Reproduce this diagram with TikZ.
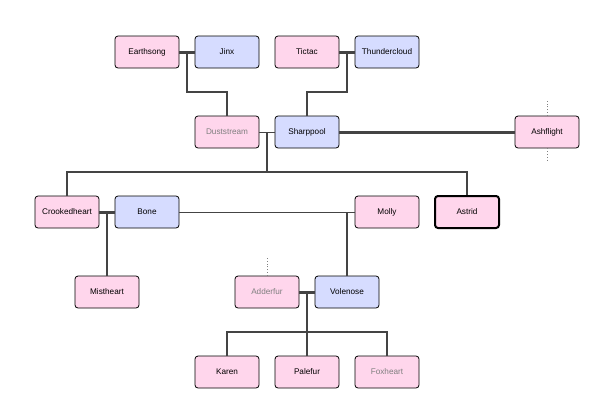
\documentclass[tikz,border=0pt]{standalone}
\usepackage{fontspec}
\setmainfont{Liberation Sans}
\begin{document}
\begin{tikzpicture}[x=1pt,y=-1pt,
  box/.style={draw=black,rounded corners=3pt,minimum width=64pt,minimum height=32pt,inner sep=0pt,font=\fontsize{8.2}{10}\selectfont,line width=0.8pt},
  f/.style={box,fill={rgb,255:red,255;green,214;blue,236}},
  m/.style={box,fill={rgb,255:red,214;green,220;blue,255}},
  dim/.style={text=gray},
  ln/.style={draw={rgb,255:red,68;green,68;blue,68},line width=1.5pt},
  th/.style={draw={rgb,255:red,68;green,68;blue,68},line width=1pt},
  tk/.style={draw={rgb,255:red,68;green,68;blue,68},line width=3pt},
  dt/.style={draw=gray,dotted,line width=0.8pt}]
\useasboundingbox (0,0) rectangle (610,418);
\node[f] (earth) at (147,52) {Earthsong};
\node[m] (jinx) at (227,52) {Jinx};
\node[f] (tic) at (307,52) {Tictac};
\node[m] (thun) at (387,52) {Thundercloud};
\node[f,dim] (dust) at (227,132) {Duststream};
\node[m] (sharp) at (307,132) {Sharppool};
\node[f] (ash) at (547,132) {Ashflight};
\node[f] (crook) at (67,212) {Crookedheart};
\node[m] (bone) at (147,212) {Bone};
\node[f] (molly) at (387,212) {Molly};
\node[f,line width=2pt] (astrid) at (467,212) {Astrid};
\node[f] (mist) at (107,292) {Mistheart};
\node[f,dim] (adder) at (267,292) {Adderfur};
\node[m] (vole) at (347,292) {Volenose};
\node[f] (karen) at (227,372) {Karen};
\node[f] (pale) at (307,372) {Palefur};
\node[f,dim] (fox) at (387,372) {Foxheart};
\coordinate (p1) at (187,52);
\coordinate (p2) at (347,52);
\coordinate (p3) at (267,132);
\coordinate (p4) at (107,212);
\coordinate (p5) at (347,212);
\coordinate (p6) at (307,292);
\path[tk] (earth) -- (jinx);
\path[tk] (tic) -- (thun);
\path[tk] (sharp) -- (ash);
\path[tk] (crook) -- (bone);
\path[tk] (adder) -- (vole);
\path[th] (dust) -- (sharp);
\path[th] (bone) -- (molly);
\path[ln] (p1) -- (187,92) -| (dust.north);
\path[ln] (p2) -- (347,92) -| (sharp.north);
\path[ln] (p3) -- (267,172) -| (crook.north);
\path[ln] (267,172) -| (astrid.north);
\path[ln] (p4) -- (mist.north);
\path[ln] (p5) -- (vole.north);
\path[ln] (p6) -- (307,332) -| (karen.north);
\path[ln] (307,332) -- (pale.north);
\path[ln] (307,332) -| (fox.north);
\path[dt] (ash.north) -- ++(0,-16);
\path[dt] (ash.south) -- ++(0,12);
\path[dt] (adder.north) -- ++(0,-18);
\end{tikzpicture}
\end{document}
